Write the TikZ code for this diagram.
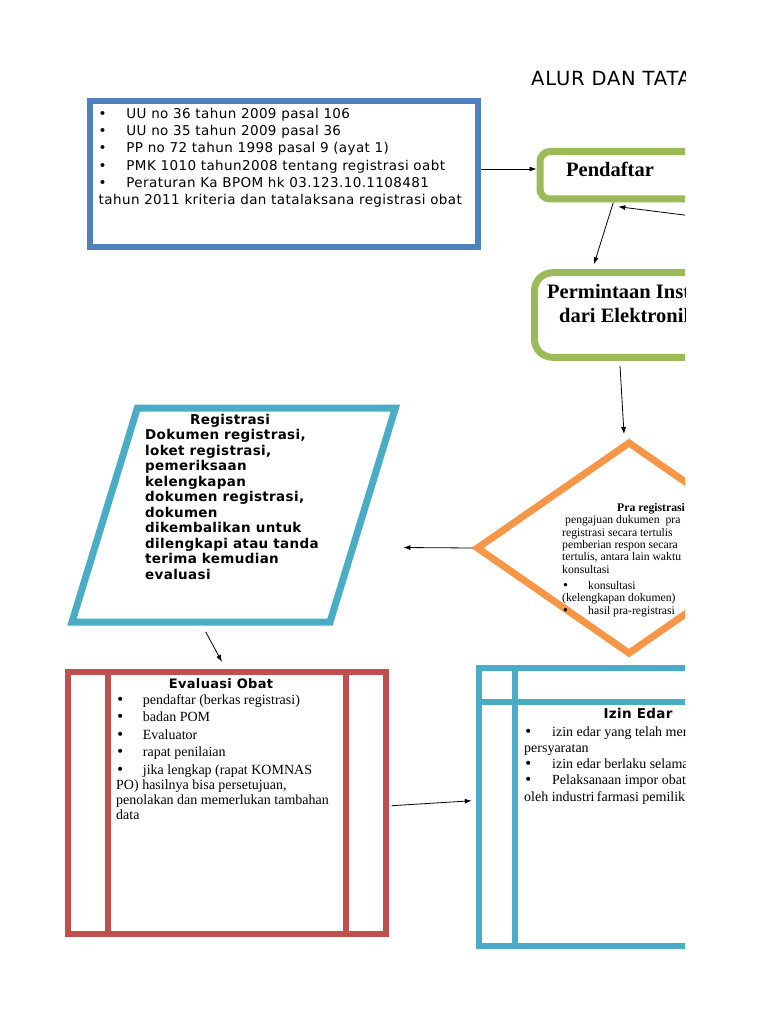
\documentclass[tikz,border=0pt]{standalone}
\usepackage{fontspec}
\setmainfont{Liberation Serif}
\newfontfamily\hurufsans[LetterSpace=3]{DejaVu Sans}
\newfontfamily\hurufjudul[LetterSpace=4]{DejaVu Sans}
\newfontfamily\hurufsanstebal[LetterSpace=2.5]{DejaVu Sans}
\newfontfamily\hurufbutir{DejaVu Sans}
\usetikzlibrary{arrows.meta, shapes.geometric}

\definecolor{biru}{HTML}{4F81BD}
\definecolor{hijau}{HTML}{9BBB59}
\definecolor{oranye}{HTML}{F79646}
\definecolor{toska}{HTML}{4BACC6}
\definecolor{merah}{HTML}{C0504D}

\newcommand{\butir}[1]{\makebox[#1][l]{\hurufbutir\textbullet}}

\begin{document}
\begin{tikzpicture}[x=1pt, y=-1pt]
    % Definisi gaya
    \tikzset{
        kotak/.style={rectangle, draw=#1, line width=6pt, inner sep=0pt},
        bulat/.style={rectangle, draw=hijau, line width=7pt, rounded corners=#1, inner sep=0pt},
        belah/.style={diamond, draw=oranye, line width=7pt, inner sep=0pt},
        jajar/.style={
            trapezium,
            trapezium left angle=73,
            trapezium right angle=107,
            draw=toska,
            line width=7pt,
            inner xsep=96.3pt,
            inner ysep=107pt
        },
        sekat/.style={line width=6pt, draw=#1},
        teks/.style={inner sep=0pt, align=left, anchor=north west},
        panah/.style={->, >={Latex[length=7pt, width=5pt]}, line width=0.8pt, draw=black}
    }

    % Batas halaman
    \useasboundingbox (0,0) rectangle (768,1024);
    \clip (0,0) rectangle (685,1024);

    % Judul
    \node[anchor=west, inner sep=0pt, font=\hurufjudul\fontsize{19.5}{23}\selectfont] at (531,78.5) (judul) {ALUR DAN TATA};

    % Dasar hukum
    \node[kotak=biru, minimum width=388pt, minimum height=146pt] at (284,174) (dasar) {};
    \node[teks, font=\hurufsans\fontsize{13.5}{17.35}\selectfont] at (98.5,107.6) (dasar-teks) {
        \butir{27.7pt}UU no 36 tahun 2009 pasal 106\\
        \butir{27.7pt}UU no 35 tahun 2009 pasal 36\\
        \butir{27.7pt}PP no 72 tahun 1998 pasal 9 (ayat 1)\\
        \butir{27.7pt}PMK 1010 tahun2008 tentang registrasi oabt\\
        \butir{27.7pt}Peraturan Ka BPOM hk 03.123.10.1108481\\
        tahun 2011 kriteria dan tatalaksana registrasi obat
    };

    % Pendaftar dan permintaan
    \node[bulat=10pt, minimum width=260pt, minimum height=47.5pt] at (670,175.25) (pendaftar) {};
    \node[anchor=west, inner sep=0pt, font=\bfseries\fontsize{20.5}{24}\selectfont] at (566,169) (pendaftar-teks) {Pendaftar};

    \node[bulat=18pt, minimum width=265.5pt, minimum height=84.6pt] at (667.25,315) (permintaan) {};
    \node[teks, font=\bfseries\fontsize{20.5}{23.3}\selectfont] at (547,284.5) (permintaan-teks) {
        Permintaan Instruksi\\
        \hspace*{12pt}dari Elektronik
    };

    % Pra registrasi
    \node[belah, minimum width=306pt, minimum height=213pt] at (629,548) (pra) {};
    \node[teks, font=\fontsize{11.7}{12.4}\selectfont] at (562,503) (pra-teks) {
        \hspace*{55pt}\textbf{Pra registrasi}\\
        \hspace*{3pt}pengajuan dukumen\ \ pra\\
        registrasi secara tertulis\\
        pemberian respon secara\\
        tertulis, antara lain waktu\\
        konsultasi\\[3.5pt]
        \butir{26pt}konsultasi\\
        (kelengkapan dokumen)\\
        \butir{26pt}hasil pra-registrasi
    };

    % Registrasi
    \node[jajar] at (233.7,515) (registrasi) {};
    \node[teks, font=\hurufsanstebal\bfseries\fontsize{13.5}{15.5}\selectfont] at (145,414) (registrasi-teks) {
        \hspace*{45pt}Registrasi\\
        Dokumen registrasi,\\
        loket registrasi,\\
        pemeriksaan\\
        kelengkapan\\
        dokumen registrasi,\\
        dokumen\\
        dikembalikan untuk\\
        dilengkapi atau tanda\\
        terima kemudian\\
        evaluasi
    };

    % Evaluasi obat
    \node[kotak=merah, minimum width=317.5pt, minimum height=261.7pt] at (226.75,802.85) (evaluasi) {};
    \draw[sekat=merah] ([xshift=42.5pt]evaluasi.north west) -- ([xshift=42.5pt]evaluasi.south west);
    \draw[sekat=merah] ([xshift=-43pt]evaluasi.north east) -- ([xshift=-43pt]evaluasi.south east);
    \node[inner sep=0pt, font=\hurufsanstebal\bfseries\fontsize{13}{15}\selectfont] at (221,683.5) (evaluasi-judul) {Evaluasi Obat};
    \node[teks, font=\fontsize{14}{15}\selectfont] at (116,694.4) (evaluasi-teks) {
        \butir{26.7pt}pendaftar (berkas registrasi)\\[2.5pt]
        \butir{26.7pt}badan POM\\[2.5pt]
        \butir{26.7pt}Evaluator\\[2.5pt]
        \butir{26.7pt}rapat penilaian\\[2.5pt]
        \butir{26.7pt}jika lengkap (rapat KOMNAS\\
        PO) hasilnya bisa persetujuan,\\
        penolakan dan memerlukan tambahan\\
        data
    };

    % Izin edar
    \node[kotak=toska, minimum width=317.5pt, minimum height=277.5pt] at (637.25,806.75) (izin) {};
    \draw[sekat=toska] ([xshift=39.5pt]izin.north west) -- ([xshift=39.5pt]izin.south west);
    \draw[sekat=toska] ([yshift=-37pt]izin.north west) -- ([yshift=-37pt]izin.north east);
    \node[inner sep=0pt, font=\hurufsanstebal\bfseries\fontsize{13.5}{16}\selectfont] at (638,713) (izin-judul) {Izin Edar};
    \node[teks, font=\fontsize{14}{16.2}\selectfont] at (524,726.4) (izin-teks) {
        \butir{28pt}izin edar yang telah memenuhi\\
        persyaratan\\
        \butir{28pt}izin edar berlaku selama\\
        \butir{28pt}Pelaksanaan impor obat\\
        oleh industri\,farmasi pemilik
    };

    % Panah alur
    \coordinate (dari-kanan) at (700,217);
    \draw[panah] ([yshift=5pt]dasar.east) -- ([yshift=6.25pt]pendaftar.west);
    \draw[panah] ([xshift=-56.7pt]pendaftar.south) -- ([xshift=-73.25pt, yshift=5pt]permintaan.north);
    \draw[panah] (dari-kanan) -- ([xshift=-51.7pt, yshift=-4.2pt]pendaftar.south);
    \draw[panah] ([xshift=-47.25pt, yshift=-5pt]permintaan.south) -- ([xshift=-5pt, yshift=4pt]pra.north);
    \draw[panah] (pra.west) -- ([xshift=37pt, yshift=-32.5pt]registrasi.right side);
    \draw[panah] ([xshift=5.7pt, yshift=-6.2pt]registrasi.bottom side) -- ([xshift=-4.75pt, yshift=7pt]evaluasi.north);
    \draw[panah] ([xshift=3.2pt, yshift=-2.85pt]evaluasi.east) -- ([xshift=-3.8pt, yshift=6pt]izin.west);

\end{tikzpicture}
\end{document}
